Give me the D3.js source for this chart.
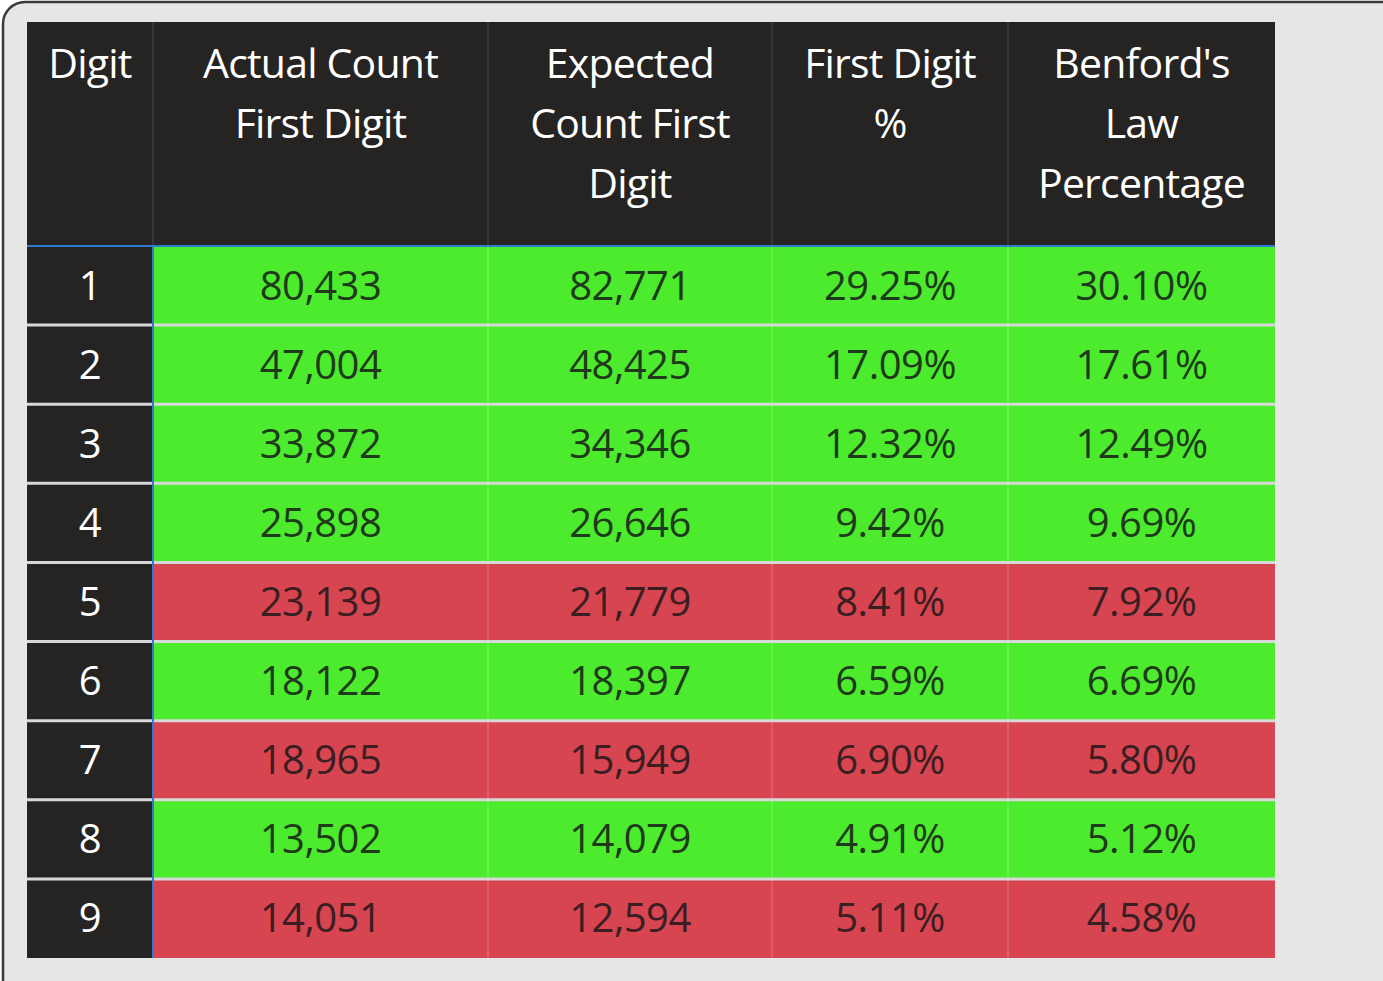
<!DOCTYPE html>
<html><head><meta charset="utf-8">
<script src="https://cdn.jsdelivr.net/npm/d3@7"></script>
<style>body{margin:0;background:#fff;overflow:hidden}</style>
</head><body>
<svg id="c" width="1383" height="981"></svg>
<script>
const digits = ["1","2","3","4","5","6","7","8","9"];
const actualCount = [80433,47004,33872,25898,23139,18122,18965,13502,14051];
const expectedCount = [82771,48425,34346,26646,21779,18397,15949,14079,12594];
const firstDigitPct = [29.25,17.09,12.32,9.42,8.41,6.59,6.90,4.91,5.11];
const benfordPct = [30.10,17.61,12.49,9.69,7.92,6.69,5.80,5.12,4.58];
const headers = [["Digit"],["Actual Count","First Digit"],["Expected","Count First","Digit"],["First Digit","%"],["Benford's","Law","Percentage"]];

(function(){
const svg = d3.select("#c");
const font = "'Open Sans', 'Noto Sans', sans-serif";
svg.append("rect").attr("x",3).attr("y",2).attr("width",1400).attr("height",1000).attr("rx",22)
  .attr("fill","#e6e6e6").attr("stroke","#3a3a3a").attr("stroke-width",2.5);

const colEdges = [27,153,488,772,1008,1275];
const tableTop = 22, headH = 224, bottom = 958;
const y = d3.scaleBand().domain(digits).range([tableTop+headH, bottom]).paddingInner(0);
const fmt = d3.format(",");
const pf = v => v.toFixed(2) + "%";
const green = "#4ceb2e", red = "#d64550";

svg.append("rect").attr("x",colEdges[0]).attr("y",tableTop).attr("width",colEdges[5]-colEdges[0]).attr("height",headH).attr("fill","#252423");
headers.forEach((lines,i)=>{
  if(i>0) svg.append("line").attr("x1",colEdges[i]).attr("x2",colEdges[i]).attr("y1",tableTop).attr("y2",tableTop+headH).attr("stroke","#3d3d3d").attr("stroke-width",1.5);
  const cx=(colEdges[i]+colEdges[i+1])/2;
  lines.forEach((t,j)=>svg.append("text").attr("x",cx).attr("y",tableTop+56+j*60).attr("text-anchor","middle")
    .attr("font-family",font).attr("font-size",41).attr("fill","#ffffff").attr("letter-spacing",-0.8).text(t));
});

digits.forEach((d,i)=>{
  const good = firstDigitPct[i] <= benfordPct[i];
  const col = good ? green : red;
  const vals = [d, fmt(actualCount[i]), fmt(expectedCount[i]), pf(firstDigitPct[i]), pf(benfordPct[i])];
  const y0 = y(d), h = y.bandwidth();
  vals.forEach((v,k)=>{
    svg.append("rect").attr("x",colEdges[k]).attr("y",y0).attr("width",colEdges[k+1]-colEdges[k]).attr("height",h)
      .attr("fill", k===0 ? "#252423" : col);
    svg.append("text").attr("x",(colEdges[k]+colEdges[k+1])/2).attr("y",y0+h/2+14).attr("text-anchor","middle")
      .attr("font-family",font).attr("font-size",40).attr("letter-spacing",-0.5)
      .attr("fill", k===0 ? "#ffffff" : (good ? "#1e3a1a" : "#3a1e22")).text(v);
  });
  for(let k=2;k<5;k++) svg.append("line").attr("x1",colEdges[k]).attr("x2",colEdges[k]).attr("y1",y0).attr("y2",y0+h)
    .attr("stroke", good ? "#6cf055" : "#dc6670").attr("stroke-width",1.5);
  if(i>0) svg.append("line").attr("x1",colEdges[0]).attr("x2",colEdges[5]).attr("y1",y0).attr("y2",y0).attr("stroke","#d8d8d8").attr("stroke-width",3);
});
svg.append("line").attr("x1",colEdges[0]).attr("x2",colEdges[5]).attr("y1",tableTop+headH).attr("y2",tableTop+headH).attr("stroke","#2f7bd0").attr("stroke-width",2);
svg.append("line").attr("x1",colEdges[1]).attr("x2",colEdges[1]).attr("y1",tableTop+headH).attr("y2",bottom).attr("stroke","#2f7bd0").attr("stroke-width",2);
})();
</script>
</body></html>
